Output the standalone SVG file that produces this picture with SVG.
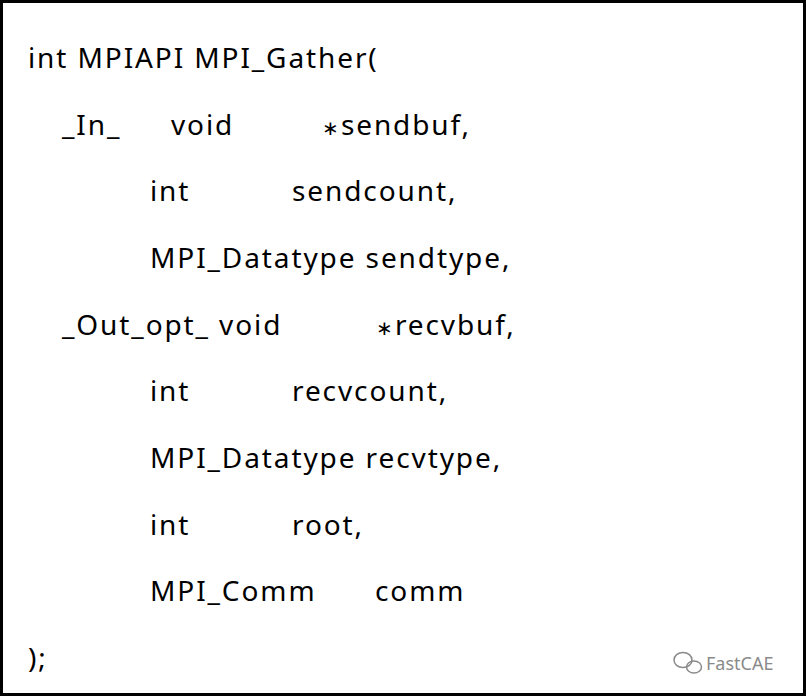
<svg xmlns="http://www.w3.org/2000/svg" width="806" height="696" viewBox="0 0 806 696">
<style>
.t{font-family:"Noto Sans","Liberation Sans",sans-serif;font-size:28px;letter-spacing:1.9px;fill:#000}
.s{font-size:20px}
.w{font-family:"Noto Sans","Liberation Sans",sans-serif;font-size:18px;fill:#8a8a8a}
</style>
<rect x="0" y="0" width="806" height="696" fill="#fff"/>
<rect x="1.5" y="1.5" width="803" height="693" fill="none" stroke="#000" stroke-width="3"/>
<g id="code">
<text class="t" x="28" y="68">int MPIAPI MPI_Gather(</text>
<text class="t" x="62" y="135">_In_</text><text class="t" x="171" y="135">void</text><text class="t" x="322" y="135"><tspan class="s">∗</tspan>sendbuf,</text>
<text class="t" x="150" y="201">int</text><text class="t" x="292" y="201">sendcount,</text>
<text class="t" x="150" y="268">MPI_Datatype sendtype,</text>
<text class="t" x="62" y="335">_Out_opt_ void</text><text class="t" x="376" y="335"><tspan class="s">∗</tspan>recvbuf,</text>
<text class="t" x="150" y="401">int</text><text class="t" x="292" y="401">recvcount,</text>
<text class="t" x="150" y="468">MPI_Datatype recvtype,</text>
<text class="t" x="150" y="535">int</text><text class="t" x="292" y="535">root,</text>
<text class="t" x="150" y="601">MPI_Comm</text><text class="t" x="375" y="601">comm</text>
<text class="t" x="28" y="668">);</text>
</g>
<g id="watermark" fill="none" stroke="#8a8a8a" stroke-width="1.5">
<ellipse cx="683" cy="660" rx="9" ry="7.5"/>
<ellipse cx="694" cy="667" rx="7.5" ry="6"/>
</g>
<text class="w" x="706" y="670">FastCAE</text>
</svg>
